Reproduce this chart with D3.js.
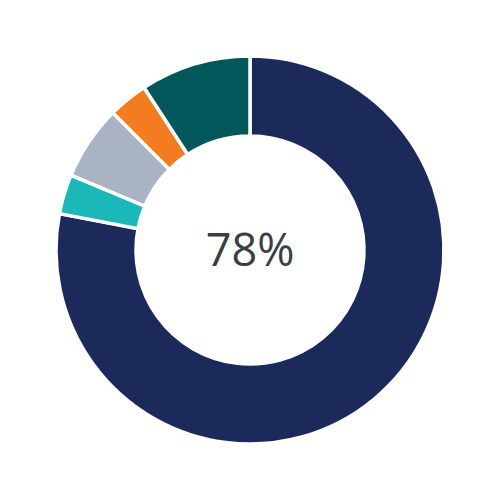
<!DOCTYPE html>
<html><head><meta charset="utf-8">
<script src="https://cdn.jsdelivr.net/npm/d3@7"></script>
<style>body{margin:0;background:#fff}svg{display:block}</style>
</head><body>
<svg id="c" width="500" height="500"></svg>
<script>
const categories = ["A", "B", "C", "D", "E"];
const values = [78, 3.3, 6.2, 3.3, 9.2];
const colors = ["#1b2a5a", "#1bb7b9", "#a9b3c1", "#f47c20", "#02575a"];
const centerLabel = "78%";

const svg = d3.select("#c");
const g = svg.append("g").attr("transform", "translate(250,250)");
const pie = d3.pie().sort(null).value(d => d.v);
const arc = d3.arc().innerRadius(114).outerRadius(194);
const data = categories.map((c, i) => ({c, v: values[i], col: colors[i]}));
g.selectAll("path").data(pie(data)).join("path")
  .attr("d", arc)
  .attr("fill", d => d.data.col)
  .attr("stroke", "#fff")
  .attr("stroke-width", 3.5)
  .attr("stroke-linejoin", "miter");
g.append("text").attr("text-anchor", "middle").attr("dy", "0.35em")
  .attr("font-family", "Open Sans, sans-serif").attr("font-size", 45)
  .attr("fill", "#3a3f45").text(centerLabel);
</script>
</body></html>
